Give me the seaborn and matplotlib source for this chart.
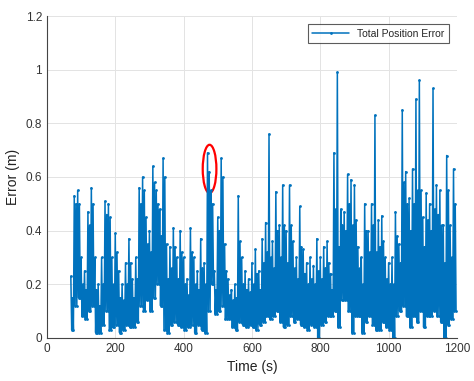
import numpy as np
import pandas as pd
import seaborn as sns
import matplotlib.pyplot as plt
from matplotlib.patches import Ellipse

# 10 s bins starting at 70 s; peak, typical level and trough
bin_start = list(range(70, 1200, 10))
peak = [0.23, 0.53, 0.55, 0.30, 0.25, 0.47, 0.56, 0.30, 0.20, 0.30,
        0.51, 0.50, 0.30, 0.39, 0.25, 0.20, 0.28, 0.37, 0.22, 0.30,
        0.56, 0.60, 0.45, 0.40, 0.64, 0.55, 0.48, 0.67, 0.35, 0.34,
        0.41, 0.30, 0.40, 0.30, 0.22, 0.41, 0.30, 0.25, 0.37, 0.28,
        0.69, 0.55, 0.25, 0.45, 0.67, 0.35, 0.22, 0.18, 0.20, 0.53,
        0.30, 0.25, 0.22, 0.28, 0.33, 0.25, 0.37, 0.43, 0.76, 0.36,
        0.545, 0.42, 0.57, 0.40, 0.57, 0.36, 0.30, 0.49, 0.33, 0.28,
        0.30, 0.27, 0.37, 0.30, 0.34, 0.36, 0.24, 0.69, 0.99, 0.48,
        0.47, 0.61, 0.59, 0.57, 0.34, 0.30, 0.50, 0.40, 0.50, 0.83,
        0.44, 0.455, 0.30, 0.28, 0.30, 0.47, 0.35, 0.85, 0.62, 0.52,
        0.63, 0.89, 0.96, 0.45, 0.54, 0.50, 0.93, 0.57, 0.55, 0.42,
        0.68, 0.42, 0.63]
level = [0.15, 0.50, 0.50, 0.20, 0.18, 0.42, 0.50, 0.18, 0.12, 0.20,
         0.46, 0.45, 0.20, 0.32, 0.15, 0.14, 0.20, 0.28, 0.15, 0.22,
         0.50, 0.55, 0.35, 0.32, 0.58, 0.50, 0.38, 0.60, 0.22, 0.26,
         0.34, 0.22, 0.32, 0.20, 0.16, 0.32, 0.20, 0.18, 0.26, 0.20,
         0.62, 0.50, 0.18, 0.40, 0.60, 0.25, 0.16, 0.14, 0.15, 0.36,
         0.20, 0.18, 0.17, 0.20, 0.24, 0.18, 0.28, 0.32, 0.30, 0.26,
         0.40, 0.30, 0.42, 0.28, 0.42, 0.26, 0.22, 0.34, 0.24, 0.20,
         0.22, 0.20, 0.25, 0.22, 0.26, 0.28, 0.18, 0.48, 0.34, 0.42,
         0.40, 0.50, 0.42, 0.44, 0.26, 0.20, 0.40, 0.32, 0.42, 0.32,
         0.34, 0.36, 0.22, 0.20, 0.20, 0.38, 0.28, 0.58, 0.50, 0.40,
         0.50, 0.55, 0.55, 0.34, 0.44, 0.40, 0.48, 0.46, 0.42, 0.28,
         0.55, 0.30, 0.50]
trough = [0.03, 0.12, 0.15, 0.08, 0.07, 0.10, 0.12, 0.02, 0.02, 0.05,
          0.10, 0.03, 0.04, 0.05, 0.02, 0.03, 0.05, 0.04, 0.04, 0.06,
          0.12, 0.10, 0.14, 0.10, 0.15, 0.20, 0.12, 0.03, 0.02, 0.05,
          0.06, 0.05, 0.04, 0.03, 0.04, 0.05, 0.02, 0.05, 0.03, 0.02,
          0.10, 0.20, 0.09, 0.10, 0.12, 0.07, 0.07, 0.04, 0.03, 0.06,
          0.05, 0.04, 0.05, 0.04, 0.03, 0.05, 0.06, 0.08, 0.07, 0.08,
          0.10, 0.06, 0.04, 0.05, 0.08, 0.06, 0.07, 0.05, 0.04, 0.03,
          0.05, 0.04, 0.00, 0.05, 0.06, 0.08, 0.08, 0.10, 0.04, 0.14,
          0.14, 0.10, 0.02, 0.08, 0.08, 0.02, 0.06, 0.08, 0.05, 0.03,
          0.03, 0.06, 0.04, 0.03, 0.00, 0.08, 0.10, 0.12, 0.08, 0.04,
          0.08, 0.06, 0.10, 0.04, 0.08, 0.08, 0.10, 0.08, 0.06, 0.00,
          0.05, 0.07, 0.10]

times = []
errors = []
for t, hi, mid, lo in zip(bin_start, peak, level, trough):
    times += [t, t + 2.5, t + 5, t + 7.5]
    errors += [hi, lo, mid, lo]

df = pd.DataFrame({"time": times, "error": errors})

sns.set_style("whitegrid")
plt.rcParams['font.family'] = ['Liberation Sans', 'DejaVu Sans']

fig = plt.figure(figsize=(4.74, 3.81), dpi=100)
ax = fig.add_axes([0.099, 0.113, 0.865, 0.845])
sns.lineplot(data=df, x="time", y="error", ax=ax, color="#0072BD",
             linewidth=1.1, marker=".", markersize=4, markeredgewidth=0,
             label="Total Position Error")

ax.add_patch(Ellipse((476, 0.63), 40, 0.18, fill=False, edgecolor="red", linewidth=1.6))

ax.set_xlim(0, 1200)
ax.set_ylim(0, 1.2)
ax.set_xticks(range(0, 1201, 200))
ax.set_yticks([0, 0.2, 0.4, 0.6, 0.8, 1.0, 1.2])
ax.set_yticklabels(["0", "0.2", "0.4", "0.6", "0.8", "1", "1.2"])
ax.tick_params(labelsize=8.5, colors="#333333", direction="in", length=3)
ax.set_xlabel("Time (s)", fontsize=10, color="#222222")
ax.set_ylabel("Error (m)", fontsize=10, color="#222222")
ax.grid(True, color="#e3e3e3", linewidth=0.7)
for s in ["top", "right"]:
    ax.spines[s].set_visible(False)
for s in ["left", "bottom"]:
    ax.spines[s].set_color("#444444")
    ax.spines[s].set_linewidth(0.8)

leg = ax.legend(loc="upper right", fontsize=7.5, frameon=True, fancybox=False,
                borderaxespad=0.8, handlelength=3.5)
leg.get_frame().set_edgecolor("#333333")
leg.get_frame().set_linewidth(0.8)

fig.savefig("out.png", dpi=100)
